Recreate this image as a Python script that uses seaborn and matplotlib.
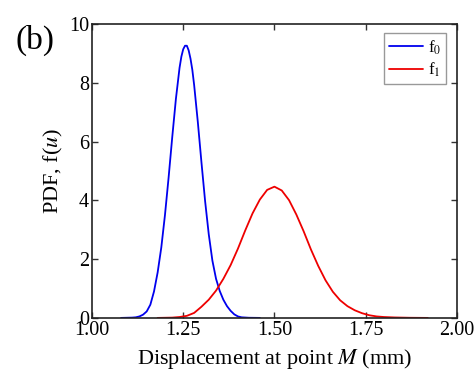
import pandas as pd
import matplotlib
matplotlib.use('Agg')
import matplotlib.pyplot as plt
import seaborn as sns

# Curva f0
x_f0 = [1.08, 1.11, 1.12, 1.13, 1.14, 1.15, 1.16, 1.17, 1.18, 1.19, 1.20, 1.21,
        1.22, 1.23, 1.24, 1.245, 1.25, 1.255, 1.26, 1.265, 1.27, 1.275, 1.28,
        1.29, 1.30, 1.31, 1.32, 1.33, 1.34, 1.35, 1.36, 1.37, 1.38, 1.39, 1.40,
        1.41, 1.43, 1.46]
y_f0 = [0.00, 0.01, 0.02, 0.05, 0.11, 0.22, 0.45, 0.90, 1.55, 2.40, 3.50, 4.78,
        6.16, 7.46, 8.52, 8.90, 9.15, 9.27, 9.27, 9.11, 8.83, 8.45, 7.93,
        6.68, 5.30, 3.98, 2.85, 1.95, 1.33, 0.92, 0.62, 0.40, 0.24, 0.12, 0.05,
        0.02, 0.005, 0.00]

# Curva f1
x_f1 = [1.18, 1.22, 1.24, 1.26, 1.28, 1.30, 1.32, 1.34, 1.36, 1.38, 1.40, 1.42,
        1.44, 1.46, 1.48, 1.50, 1.52, 1.54, 1.56, 1.58, 1.60, 1.62, 1.64, 1.66,
        1.68, 1.70, 1.72, 1.74, 1.76, 1.78, 1.80, 1.83, 1.87, 1.92]
y_f1 = [0.00, 0.01, 0.03, 0.07, 0.17, 0.38, 0.62, 0.93, 1.33, 1.80, 2.36, 2.98,
        3.56, 4.03, 4.36, 4.47, 4.34, 4.01, 3.52, 2.95, 2.33, 1.77, 1.28, 0.89,
        0.60, 0.40, 0.26, 0.16, 0.09, 0.05, 0.03, 0.015, 0.005, 0.00]

etiquetas = ['f$_0$', 'f$_1$']
colores = ['#0000ee', '#ee0000']
x_ticks = [1.00, 1.25, 1.50, 1.75, 2.00]
y_ticks = [0, 2, 4, 6, 8, 10]

df = pd.concat([
    pd.DataFrame({'u': x_f0, 'pdf': y_f0, 'curva': etiquetas[0]}),
    pd.DataFrame({'u': x_f1, 'pdf': y_f1, 'curva': etiquetas[1]}),
])

sns.set_style('ticks')
plt.rcParams['font.family'] = ['Liberation Serif', 'DejaVu Serif']
plt.rcParams['mathtext.fontset'] = 'stix'
plt.rcParams['xtick.direction'] = 'in'
plt.rcParams['ytick.direction'] = 'in'
plt.rcParams['text.color'] = 'black'
plt.rcParams['axes.labelcolor'] = 'black'
plt.rcParams['xtick.labelcolor'] = 'black'
plt.rcParams['ytick.labelcolor'] = 'black'

fig = plt.figure(figsize=(4.74, 3.74), dpi=100)
ax = fig.add_axes([0.194, 0.150, 0.770, 0.785])

sns.lineplot(data=df, x='u', y='pdf', hue='curva', palette=dict(zip(etiquetas, colores)),
             estimator=None, linewidth=1.3, ax=ax)

ax.set_xlim(1.0, 2.0)
ax.set_ylim(0, 10)
ax.set_xticks(x_ticks)
ax.set_xticklabels([f'{v:.2f}' for v in x_ticks])
ax.set_yticks(y_ticks)
ax.tick_params(labelsize=14.5, top=True, right=True, length=4, width=1, color='#333333', pad=2)
for s in ax.spines.values():
    s.set_linewidth(1.2)
    s.set_color('#222222')

ax.set_xlabel('Displacement at point $\\mathit{M}$ (mm)', fontsize=16, labelpad=5)
ax.set_ylabel('PDF, f($\\mathit{u}$)', fontsize=16, labelpad=3)

leg = ax.legend(loc='upper right', bbox_to_anchor=(0.97, 0.97), borderaxespad=0,
                fontsize=12, handlelength=2.0, handletextpad=0.3, borderpad=0.3,
                labelspacing=0.25, fancybox=False, framealpha=1, edgecolor='#999999')
leg.get_frame().set_linewidth(1.0)

fig.text(0.033, 0.893, '(b)', fontsize=24, va='center', ha='left')

fig.savefig('out.png', dpi=100)
